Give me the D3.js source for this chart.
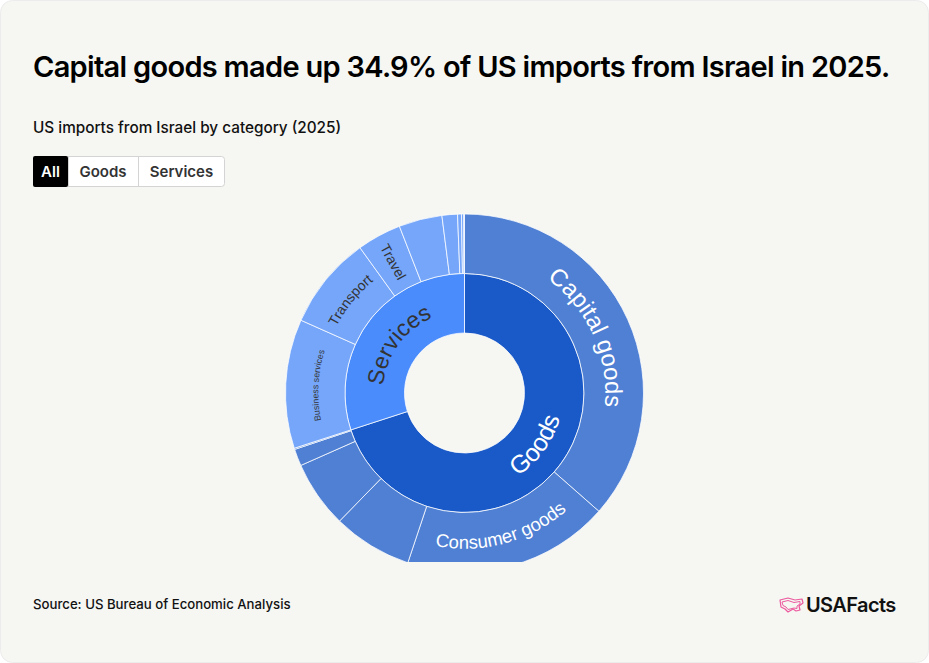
<!DOCTYPE html>
<html>
<head>
<meta charset="utf-8">
<script src="https://cdn.jsdelivr.net/npm/d3@7"></script>
<style>
  html, body { margin: 0; padding: 0; background: #fff; }
  #chart { width: 929px; height: 663px; }
</style>
</head>
<body>
<div id="chart"></div>
<script>
// values in $ billions
const categories = ['Goods', 'Services'];
const goodsNames = ['Capital goods', 'Consumer goods', 'Industrial supplies', 'Foods, feeds, and beverages', 'Other goods', 'Automotive vehicles'];
const goodsValues = [11.49, 5.87, 2.26, 1.91, 0.48, 0.035];
const servicesNames = ['Business services', 'Transport', 'Travel', 'Intellectual property', 'Financial services', 'Insurance', 'Telecommunications', 'Government goods and services'];
const servicesValues = [3.67, 2.65, 1.26, 1.23, 0.44, 0.11, 0.063, 0.022];

const title = 'Capital goods made up 34.9% of US imports from Israel in 2025.';
const subtitle = 'US imports from Israel by category (2025)';
const buttons = ['All', 'Goods', 'Services'];
const source = 'Source: US Bureau of Economic Analysis';

// label look, by node name
const labelStyle = {
  'Goods': { size: 25 },
  'Services': { size: 23 },
  'Capital goods': { size: 24 },
  'Consumer goods': { size: 18.5 },
  'Business services': { size: 8.8 },
  'Transport': { size: 14 },
  'Travel': { size: 14, radial: true },
};

const colors = {
  Goods: { inner: '#1a5ac8', outer: '#4f80d4', text: '#fff' },
  Services: { inner: '#4a8cfb', outer: '#75a6f9', text: '#333' },
};

const W = 929, H = 663;
const cx = 464.5, cy = 393;
const uiFont = 'Inter, "Noto Sans", sans-serif';
const labelFont = '"Liberation Sans", Arial, sans-serif';

const svg = d3.select('#chart').append('svg')
  .attr('width', W).attr('height', H);

// card
svg.append('rect')
  .attr('x', 0.5).attr('y', 0.5)
  .attr('width', W - 1).attr('height', H - 1)
  .attr('rx', 12)
  .attr('fill', '#f6f6f2')
  .attr('stroke', '#ececec');

svg.append('text')
  .attr('x', 33).attr('y', 77)
  .attr('font-family', uiFont)
  .attr('font-weight', 600)
  .attr('font-size', 29)
  .attr('letter-spacing', -0.7)
  .attr('fill', '#000')
  .text(title);

svg.append('text')
  .attr('x', 33).attr('y', 133)
  .attr('font-family', uiFont)
  .attr('font-weight', 500)
  .attr('font-size', 15.3)
  .attr('fill', '#111')
  .text(subtitle);

// toggle buttons
const btnWidths = [35, 70, 87];
let bx = 33;
const btnG = svg.append('g');
btnG.append('rect')
  .attr('x', 33.5).attr('y', 156.5)
  .attr('width', d3.sum(btnWidths) - 1).attr('height', 30)
  .attr('rx', 3)
  .attr('fill', '#fff')
  .attr('stroke', '#d4d4d4');
buttons.forEach((b, i) => {
  const w = btnWidths[i];
  if (i === 0) {
    btnG.append('rect')
      .attr('x', bx).attr('y', 156)
      .attr('width', w).attr('height', 31)
      .attr('rx', 2)
      .attr('fill', '#000');
  } else {
    btnG.append('line')
      .attr('x1', bx + 0.5).attr('x2', bx + 0.5)
      .attr('y1', 157).attr('y2', 186)
      .attr('stroke', '#d4d4d4');
  }
  btnG.append('text')
    .attr('x', bx + w / 2).attr('y', 177)
    .attr('text-anchor', 'middle')
    .attr('font-family', uiFont)
    .attr('font-weight', 600)
    .attr('font-size', 15)
    .attr('fill', i === 0 ? '#fff' : '#333')
    .text(b);
  bx += w;
});

// sunburst
const root = d3.hierarchy({
  name: 'root',
  children: [
    { name: categories[0], children: goodsNames.map((n, i) => ({ name: n, value: goodsValues[i] })) },
    { name: categories[1], children: servicesNames.map((n, i) => ({ name: n, value: servicesValues[i] })) },
  ],
})
  .sum(d => d.value || 0)
  .sort((a, b) => b.value - a.value);

d3.partition().size([2 * Math.PI, 3])(root);

const r = d3.scaleLinear().domain([1, 3]).range([60, 179]);

const arc = d3.arc()
  .startAngle(d => d.x0)
  .endAngle(d => d.x1)
  .innerRadius(d => r(d.y0))
  .outerRadius(d => r(d.y1));

svg.append('defs').append('clipPath')
  .attr('id', 'clip')
  .append('rect')
  .attr('x', 0).attr('y', 0)
  .attr('width', W).attr('height', 562);

const g = svg.append('g')
  .attr('clip-path', 'url(#clip)')
  .append('g')
  .attr('transform', `translate(${cx},${cy})`);

const nodes = root.descendants().filter(d => d.depth > 0);
const topOf = d => (d.depth === 1 ? d : d.parent);

g.selectAll('path.slice')
  .data(nodes)
  .enter()
  .append('path')
  .attr('class', 'slice')
  .attr('d', arc)
  .attr('fill', d => colors[topOf(d).data.name][d.depth === 1 ? 'inner' : 'outer'])
  .attr('stroke', 'rgba(255,255,255,0.75)')
  .attr('stroke-width', 1);

// labels
const labelled = nodes.filter(d => labelStyle[d.data.name]);
const deg = a => (a * 180) / Math.PI;

labelled.forEach((d, i) => {
  const st = labelStyle[d.data.name];
  const mid = (d.x0 + d.x1) / 2;
  const rm = (r(d.y0) + r(d.y1)) / 2;
  const fill = colors[topOf(d).data.name].text;

  if (st.radial) {
    const [x, y] = arc.centroid(d);
    g.append('text')
      .attr('transform', `translate(${x},${y}) rotate(${deg(mid) - 270})`)
      .attr('text-anchor', 'middle')
      .attr('dy', '0.35em')
      .attr('font-family', labelFont)
      .attr('font-size', st.size)
      .attr('fill', fill)
      .text(d.data.name);
    return;
  }

  // text along the ring, flipped on the lower half so it reads upright
  const flip = mid > Math.PI / 2 && mid < (3 * Math.PI) / 2;
  const rr = flip ? rm + st.size * 0.35 : rm - st.size * 0.35;
  const p = d3.path();
  if (!flip) {
    p.moveTo(rr * Math.sin(d.x0), -rr * Math.cos(d.x0));
    p.arc(0, 0, rr, d.x0 - Math.PI / 2, d.x1 - Math.PI / 2, false);
  } else {
    p.moveTo(rr * Math.sin(d.x1), -rr * Math.cos(d.x1));
    p.arc(0, 0, rr, d.x1 - Math.PI / 2, d.x0 - Math.PI / 2, true);
  }
  const id = 'lp' + i;
  g.append('path').attr('id', id).attr('d', p.toString()).attr('fill', 'none');
  g.append('text')
    .attr('font-family', labelFont)
    .attr('font-size', st.size)
    .attr('fill', fill)
    .append('textPath')
    .attr('href', '#' + id)
    .attr('startOffset', '50%')
    .attr('text-anchor', 'middle')
    .text(d.data.name);
});

// footer
svg.append('text')
  .attr('x', 33).attr('y', 609)
  .attr('font-family', uiFont)
  .attr('font-weight', 500)
  .attr('font-size', 13.2)
  .attr('fill', '#111')
  .text(source);

const logo = svg.append('g').attr('transform', 'translate(779,597)');
logo.append('path')
  .attr('d', 'M1,3 L9,1 L16,3 L23,2 L24,6 L20,9 L21,13 L17,14 L14,12 L9,15 L6,12 L2,10 Z')
  .attr('fill', 'none')
  .attr('stroke', '#ec5a9e')
  .attr('stroke-width', 1.2)
  .attr('stroke-linejoin', 'round');
logo.append('path')
  .attr('d', 'M3,5 L9,3.5 L15,5.5 L21,4.5 L21,7 L18,9 L18,11.5 L15,11 L9,12.5 L7,10 L4,8.5 Z')
  .attr('fill', 'none')
  .attr('stroke', '#ec5a9e')
  .attr('stroke-width', 1)
  .attr('stroke-linejoin', 'round');
svg.append('text')
  .attr('x', 806).attr('y', 612)
  .attr('font-family', uiFont)
  .attr('font-weight', 600)
  .attr('font-size', 20)
  .attr('letter-spacing', -0.6)
  .attr('fill', '#111')
  .text('USAFacts');
</script>
</body>
</html>
